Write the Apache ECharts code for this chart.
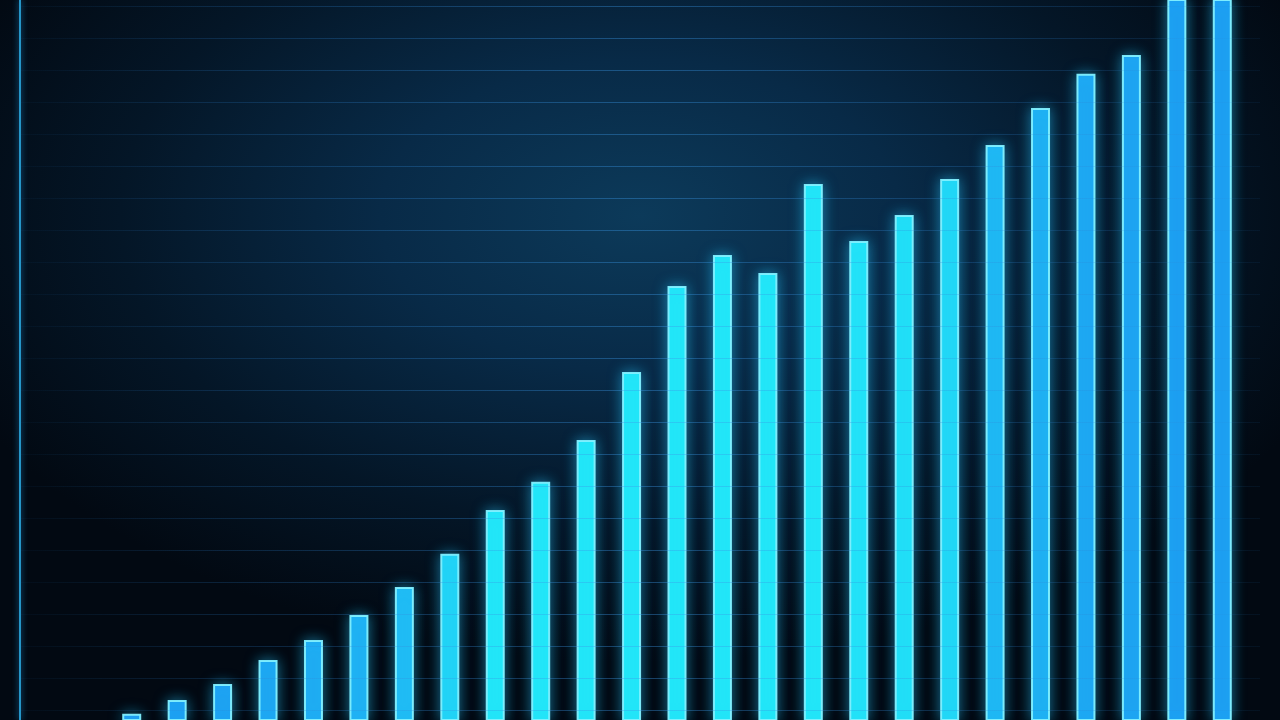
<!DOCTYPE html>
<html>
<head>
<meta charset="utf-8">
<script src="https://cdn.jsdelivr.net/npm/echarts@6/dist/echarts.min.js"></script>
<style>
html,body{margin:0;padding:0;width:1280px;height:720px;overflow:hidden;background:#020a14;}
#chart{width:1280px;height:720px;background:radial-gradient(ellipse 58% 62% at 50% 30%, #0c3a5a 0%, #082a47 35%, #041627 70%, #020912 100%);}
</style>
</head>
<body>
<div id="chart"></div>
<script>
const categories = ['1','2','3','4','5','6','7','8','9','10','11','12','13','14','15','16','17','18','19','20','21','22','23','24','25'];
const values = [0.88, 1.31, 1.81, 2.56, 3.19, 3.97, 4.84, 5.88, 7.25, 8.13, 9.44, 11.56, 14.25, 15.22, 14.66, 17.44, 15.66, 16.47, 17.59, 18.66, 19.81, 20.88, 21.47, 25.5, 26];
const gridMax = 22;          // top grid line value
const viewMin = 0.6875;      // value at the picture's bottom edge
const viewMax = 23.1875;     // value at the picture's top edge

function mix(t){
  const a=[28,150,240], b=[34,232,248];
  const c=a.map((v,i)=>Math.round(v+(b[i]-v)*t));
  return 'rgb('+c.join(',')+')';
}
function tAt(i){
  const ts=[0.05,0.08,0.12,0.18,0.25,0.32,0.45,0.75,1,1,1,1,1,1,1,1,0.95,0.9,0.8,0.4,0.3,0.2,0.15,0.08,0.08];
  return ts[i];
}

const lineGrad = {type:'linear', x:0, y:0, x2:1, y2:0, colorStops:[
  {offset:0, color:'rgba(45,130,210,0.04)'},
  {offset:0.15, color:'rgba(45,130,210,0.2)'},
  {offset:0.5, color:'rgba(60,155,235,0.38)'},
  {offset:0.85, color:'rgba(45,130,210,0.2)'},
  {offset:1, color:'rgba(45,130,210,0.08)'}
]};

const chart = echarts.init(document.getElementById('chart'), null, {renderer:'canvas'});
chart.setOption({
  backgroundColor: 'transparent',
  animation: false,
  grid: [
    {left: 20, right: 20, top: 6, bottom: 10},
    {left: 109, right: 35, top: 0, bottom: 0},
    {left: 20, right: 20, top: 0, bottom: 0}
  ],
  xAxis: [
    {gridIndex: 0, type: 'value', min: 0, max: 1, show: false},
    {gridIndex: 1, type: 'category', data: categories, show: false, boundaryGap: true},
    {gridIndex: 2, type: 'value', min: 0, max: 1, show: false}
  ],
  yAxis: [
    {gridIndex: 0, type: 'value', min: 0, max: gridMax, interval: 1, z: 5,
     axisLine: {show: false}, axisTick: {show: false}, axisLabel: {show: false},
     splitLine: {show: true, lineStyle: {color: lineGrad, width: 1}}},
    {gridIndex: 1, type: 'value', min: viewMin, max: viewMax, show: false, splitLine: {show: false}},
    {gridIndex: 2, type: 'value', min: 0, max: 1,
     axisLine: {show: true, lineStyle: {color: '#2596c8', width: 2, shadowBlur: 6, shadowColor: 'rgba(40,170,255,0.7)'}},
     axisTick: {show: false}, axisLabel: {show: false}, splitLine: {show: false}}
  ],
  series: [{
    type: 'bar',
    xAxisIndex: 1, yAxisIndex: 1,
    data: values,
    barWidth: 19,
    clip: true,
    itemStyle: {
      color: p => mix(tAt(p.dataIndex)),
      borderColor: 'rgba(130,240,255,0.95)',
      borderWidth: 2,
      shadowBlur: 14,
      shadowColor: 'rgba(40,200,255,0.55)'
    }
  }]
});
</script>
</body>
</html>
